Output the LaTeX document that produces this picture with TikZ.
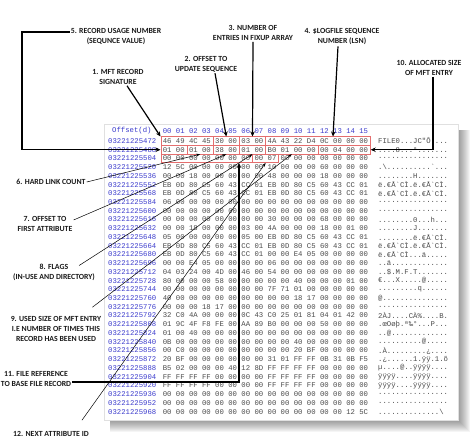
\documentclass[tikz,border=0pt]{standalone}
\usepackage{fontspec}
\setmainfont{Carlito}
\newfontfamily\hexfont{Liberation Mono}
\usetikzlibrary{arrows.meta,calc,positioning}
\definecolor{offblue}{RGB}{60,60,205}
\definecolor{hexgray}{RGB}{75,75,75}
\definecolor{boxred}{RGB}{228,110,110}
\tikzstyle{callout}=[font=\bfseries\fontsize{7.8}{10}\selectfont, align=center, text=black!90, inner sep=1pt]
\tikzstyle{offset}=[font=\hexfont\fontsize{7.28}{8}\selectfont, text=offblue, anchor=west, inner sep=0pt]
\tikzstyle{hexrow}=[font=\hexfont\fontsize{7.28}{8}\selectfont, text=hexgray, anchor=west, inner sep=0pt]
\tikzstyle{bytebox}=[draw=boxred, line width=0.6pt, minimum height=8.4pt, inner sep=0pt, anchor=west]
\tikzstyle{bigarrow}=[draw, line width=1.2pt, -{Stealth[length=5pt,width=4.5pt]}]
\tikzstyle{thinarrow}=[draw, line width=0.5pt, -{Stealth[length=4pt,width=3pt]}]

\begin{document}
\begin{tikzpicture}[x=1pt,y=-1pt]
    \useasboundingbox (0,0) rectangle (474,443);
    % the hex editor window with its shadow
    \foreach \s in {1,...,12}
        \fill[black,opacity=0.04] (110,130) rectangle (458+\s,420+\s);
    \filldraw[fill=white,draw=black!12] (104,124) rectangle (458,420);

    % column header
    \node[offset] (head) at (112,131) {Offset(d)};
    \node[offset] (cols) at (162.6,131) {00 01 02 03 04 05 06 07 08 09 10 11 12 13 14 15};

    % rows of the MFT entry
    \foreach \hex/\asc [count=\i from 0] in {
        {46 49 4C 45 30 00 03 00 4A 43 22 D4 0C 00 00 00}/{FILE0...JC"Ô....},
        {01 00 01 00 38 00 01 00 B0 01 00 00 00 04 00 00}/{....8...°.......},
        {00 00 00 00 00 00 00 00 07 00 00 00 00 00 00 00}/{................},
        {12 5C 00 00 00 00 00 00 10 00 00 00 60 00 00 00}/{.\textbackslash..........\textasciigrave...},
        {00 00 18 00 00 00 00 00 48 00 00 00 18 00 00 00}/{........H.......},
        {EB 0D 80 C5 60 43 CC 01 EB 0D 80 C5 60 43 CC 01}/{ë.€Å\textasciigrave CÌ.ë.€Å\textasciigrave CÌ.},
        {EB 0D 80 C5 60 43 CC 01 EB 0D 80 C5 60 43 CC 01}/{ë.€Å\textasciigrave CÌ.ë.€Å\textasciigrave CÌ.},
        {06 00 00 00 00 00 00 00 00 00 00 00 00 00 00 00}/{................},
        {00 00 00 00 00 00 00 00 00 00 00 00 00 00 00 00}/{................},
        {00 00 00 00 00 00 00 00 30 00 00 00 68 00 00 00}/{........0...h...},
        {00 00 18 00 00 00 03 00 4A 00 00 00 18 00 01 00}/{........J.......},
        {05 00 00 00 00 00 05 00 EB 0D 80 C5 60 43 CC 01}/{........ë.€Å\textasciigrave CÌ.},
        {EB 0D 80 C5 60 43 CC 01 EB 0D 80 C5 60 43 CC 01}/{ë.€Å\textasciigrave CÌ.ë.€Å\textasciigrave CÌ.},
        {EB 0D 80 C5 60 43 CC 01 00 00 E4 05 00 00 00 00}/{ë.€Å\textasciigrave CÌ...ä.....},
        {00 00 E4 05 00 00 00 00 06 00 00 00 00 00 00 00}/{..ä.............},
        {04 03 24 00 4D 00 46 00 54 00 00 00 00 00 00 00}/{..\$.M.F.T.......},
        {80 00 00 00 58 00 00 00 00 00 40 00 00 00 01 00}/{€...X.....@.....},
        {00 00 00 00 00 00 00 00 7F 71 01 00 00 00 00 00}/{.........q......},
        {40 00 00 00 00 00 00 00 00 00 18 17 00 00 00 00}/{@...............},
        {00 00 00 18 17 00 00 00 00 00 00 00 00 00 00 00}/{................},
        {32 C0 4A 00 00 00 0C 43 C0 25 01 81 04 01 42 00}/{2ÀJ....CÀ\%....B.},
        {01 9C 4F F8 FE 00 AA 89 B0 00 00 00 50 00 00 00}/{.œOøþ.ª‰°...P...},
        {01 00 40 00 00 00 00 00 00 00 00 00 00 00 00 00}/{..@.............},
        {0B 00 00 00 00 00 00 00 00 00 40 00 00 00 00 00}/{..........@.....},
        {00 C0 00 00 00 00 00 00 00 00 20 BF 00 00 00 00}/{.À.........¿....},
        {20 BF 00 00 00 00 00 00 31 01 FF FF 0B 31 0B F5}/{.¿......1.ÿÿ.1.õ},
        {B5 02 00 00 00 40 12 8D FF FF FF FF 00 00 00 00}/{µ....@..ÿÿÿÿ....},
        {FF FF FF FF 00 00 00 00 FF FF FF FF 00 00 00 00}/{ÿÿÿÿ....ÿÿÿÿ....},
        {FF FF FF FF 00 00 00 00 FF FF FF FF 00 00 00 00}/{ÿÿÿÿ....ÿÿÿÿ....},
        {00 00 00 00 00 00 00 00 00 00 00 00 00 00 00 00}/{................},
        {00 00 00 00 00 00 00 00 00 00 00 00 00 00 00 00}/{................},
        {00 00 00 00 00 00 00 00 00 00 00 00 00 00 12 5C}/{..............\textbackslash}}
    {
        \node[offset] (off\i) at (108,141+8.73*\i) {03221225\the\numexpr472+16*\i\relax};
        \node[hexrow] (hex\i) at (162.6,141+8.73*\i) {\hex};
        \node[hexrow] (asc\i) at (378,141+8.73*\i) {\asc};
    }

    % red boxes round the header fields
    \foreach \name/\row/\first/\n in {sig/0/0/4, upd/0/4/2, fix/0/6/2, lsn/0/8/8,
        seq/1/0/2, hard/1/2/2, attr/1/4/2, flag/1/6/2, used/1/8/4, alloc/1/12/4,
        base/2/0/7, next/2/7/2}
        \node[bytebox, minimum width={\n*13.1pt}] (\name) at (160.5+13.1*\first,141+8.73*\row) {};

    % callouts
    \node[callout] (lbl5) at (116,37) {5. RECORD USAGE NUMBER\\(SEQUNCE VALUE)};
    \node[callout] (lbl3) at (253,33) {3. NUMBER OF\\ENTRIES IN FIXUP ARRAY};
    \node[callout] (lbl4) at (342,37) {4. \$LOGFILE SEQUENCE\\NUMBER (LSN)};
    \node[callout] (lbl2) at (206,64) {2. OFFSET TO\\UPDATE SEQUENCE};
    \node[callout] (lbl1) at (118,77) {1. MFT RECORD\\SIGNATURE};
    \node[callout] (lbl10) at (429,68) {10. ALLOCATED SIZE\\OF MFT ENTRY};
    \node[callout] (lbl6) at (51,182) {6. HARD LINK COUNT};
    \node[callout] (lbl7) at (45,224) {7. OFFSET TO\\FIRST ATTRIBUTE};
    \node[callout] (lbl8) at (54,272) {8. FLAGS\\(IN-USE AND DIRECTORY)};
    \node[callout] (lbl9) at (56,329) {9. USED SIZE OF MFT ENTRY\\I.E NUMBER OF TIMES THIS\\RECORD HAS BEEN USED};
    \node[callout] (lbl11) at (36,379) {11. FILE REFERENCE\\TO BASE FILE RECORD};
    \node[callout] (lbl12) at (51,434) {12. NEXT ATTRIBUTE ID};

    % arrows from callouts to the fields
    \draw[bigarrow] ($(lbl1.south)+(9,0)$) -- (sig.north west);
    \draw[bigarrow] ($(lbl2.south)+(9,0)$) -- (upd.north);
    \draw[bigarrow] (lbl3.south) -- (fix.north);
    \draw[bigarrow] ($(lbl4.south)+(-4,0)$) -- ($(lsn.north)+(15,0)$);
    \coordinate (bend5) at (22,32);
    \draw[bigarrow] (lbl5.west |- bend5) -- (bend5) |- (seq.west);
    \draw[bigarrow] ($(lbl10.south)+(4,0)$) |- (alloc.east);
    \coordinate (bend11) at (239,382);
    \draw[bigarrow] (lbl11.east |- bend11) -- (bend11) -- (bend11 |- base.south);
    \draw[thinarrow] (lbl6.east) -- (hard.south);
    \draw[thinarrow] ($(lbl7.east)+(0,-4)$) -- (attr.south);
    \draw[thinarrow] ($(lbl8.north east)+(-17,3)$) -- (flag.south);
    \draw[thinarrow] ($(lbl9.north east)+(-10,-8)$) -- (used.south);
    \draw[thinarrow] ($(lbl12.north east)+(-8,-10)$) -- (next.south);
\end{tikzpicture}
\end{document}
